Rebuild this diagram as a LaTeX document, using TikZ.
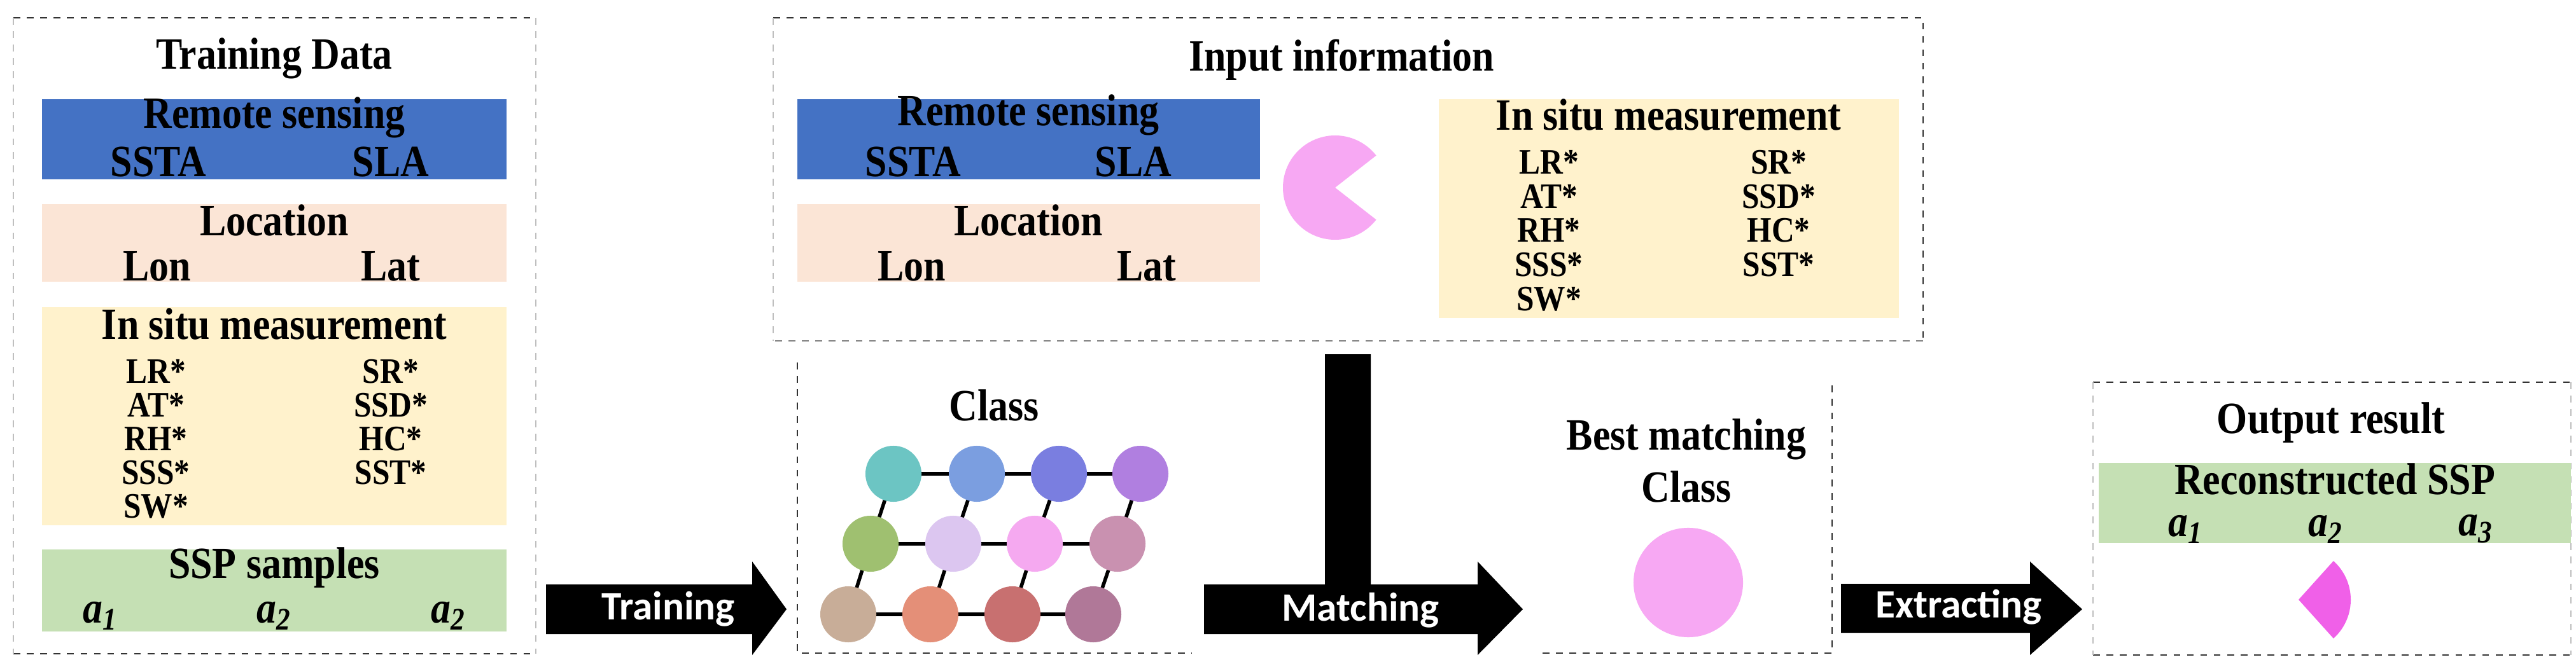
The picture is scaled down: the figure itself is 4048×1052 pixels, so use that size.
\documentclass[tikz,border=0pt]{standalone}
\usepackage{fontspec}
\setmainfont{Liberation Serif}
\newfontfamily\arrfont{Carlito}
\usetikzlibrary{backgrounds}
\definecolor{rsblue}{HTML}{4472C4}
\definecolor{locc}{HTML}{FBE5D6}
\definecolor{insitu}{HTML}{FFF2CC}
\definecolor{sspg}{HTML}{C5E0B4}
\definecolor{pk}{HTML}{F7A8F3}
\definecolor{wedge}{HTML}{F060E8}
\newcommand{\sq}[1]{\scalebox{0.88}[1]{#1}}
\tikzset{
 t/.style={font=\fontsize{20}{22}\selectfont\bfseries, inner sep=0pt},
 tm/.style={font=\fontsize{16}{17}\selectfont\bfseries, inner sep=0pt},
 ti/.style={font=\fontsize{20}{22}\selectfont\bfseries\itshape, inner sep=0pt},
 al/.style={font=\arrfont\fontsize{18}{20}\selectfont\bfseries, text=white, inner sep=0pt},
 dbox/.style={draw=black!80, dashed, line width=0.6pt},
 lbox/.style={draw=black!25, dashed, line width=0.4pt},
 cc/.style={circle, minimum size=0.88cm, inner sep=0pt},
 gl/.style={line width=1.6pt}
}
\begin{document}
\begin{tikzpicture}[x=0.01cm,y=-0.01cm]
\useasboundingbox (0,0) rectangle (4048,1052);
% ---------- Training data ----------
\draw[dbox] (21,28) -- (842,28) (21,1028) -- (842,1028);
\draw[lbox] (21,28) -- (21,1028) (842,28) -- (842,1028);
\node[t] (tdt) at (431,92) {\sq{Training Data}};
\fill[rsblue] (66,156) rectangle (796,282);
\node[t] (trs) at (431,185) {\sq{Remote sensing}};
\node[t] (tssta) at (249,255) {\sq{SSTA}};
\node[t] (tsla) at (614,255) {\sq{SLA}};
\fill[locc] (66,321) rectangle (796,443);
\node[t] (tloc) at (431,346) {\sq{Location}};
\node[t] (tlon) at (247,419) {\sq{Lon}};
\node[t] (tlat) at (614,419) {\sq{Lat}};
\fill[insitu] (66,483) rectangle (796,826);
\node[t] (tis) at (431,510) {\sq{In situ measurement}};
\node[tm] at (245,584) {\sq{LR*}};
\node[tm] at (245,637) {\sq{AT*}};
\node[tm] at (245,690) {\sq{RH*}};
\node[tm] at (245,743) {\sq{SSS*}};
\node[tm] at (245,796) {\sq{SW*}};
\node[tm] at (614,584) {\sq{SR*}};
\node[tm] at (614,637) {\sq{SSD*}};
\node[tm] at (614,690) {\sq{HC*}};
\node[tm] at (614,743) {\sq{SST*}};
\fill[sspg] (66,864) rectangle (796,993);
\node[t] (tssp) at (431,893) {\sq{SSP samples}};
\node[ti] at (158,968) {\sq{a\textsubscript{1}}};
\node[ti] at (431,968) {\sq{a\textsubscript{2}}};
\node[ti] at (705,968) {\sq{a\textsubscript{2}}};
% Training arrow
\fill (858,919) -- (1182,919) -- (1182,883) -- (1236,958) -- (1182,1030) -- (1182,997) -- (858,997) -- cycle;
\node[al] (ltrain) at (1050,958) {Training};
% ---------- Input information ----------
\draw[dbox] (1215,28) -- (3022,28) -- (3022,536);
\draw[dbox, draw=black!50] (3022,536) -- (1215,536);
\draw[lbox] (1215,28) -- (1215,536);
\node[t] (iit) at (2108,94) {\sq{Input information}};
\fill[rsblue] (1253,156) rectangle (1980,282);
\node[t] at (1616,181) {\sq{Remote sensing}};
\node[t] at (1435,255) {\sq{SSTA}};
\node[t] at (1781,255) {\sq{SLA}};
\fill[locc] (1253,321) rectangle (1980,443);
\node[t] at (1616,346) {\sq{Location}};
\node[t] at (1433,419) {\sq{Lon}};
\node[t] at (1802,419) {\sq{Lat}};
\fill[pk] (2098,295) -- ++(38:82) arc[start angle=38,end angle=322,radius=82] -- cycle;
\fill[insitu] (2261,156) rectangle (2984,500);
\node[t] at (2622,181) {\sq{In situ measurement}};
\node[tm] at (2434,255) {\sq{LR*}};
\node[tm] at (2434,309) {\sq{AT*}};
\node[tm] at (2434,362) {\sq{RH*}};
\node[tm] at (2434,416) {\sq{SSS*}};
\node[tm] at (2434,470) {\sq{SW*}};
\node[tm] at (2795,255) {\sq{SR*}};
\node[tm] at (2795,309) {\sq{SSD*}};
\node[tm] at (2795,362) {\sq{HC*}};
\node[tm] at (2795,416) {\sq{SST*}};
% ---------- Class ----------
\draw[dbox] (1253,570) -- (1253,1027) -- (1873,1027);
\node[t] (clt) at (1562,637) {\sq{Class}};
\node[cc, fill={rgb,255:red,108;green,197;blue,195}] (c11) at (1404,745) {};
\node[cc, fill={rgb,255:red,123;green,158;blue,224}] (c12) at (1535,745) {};
\node[cc, fill={rgb,255:red,122;green,126;blue,224}] (c13) at (1664,745) {};
\node[cc, fill={rgb,255:red,176;green,127;blue,224}] (c14) at (1792,745) {};
\node[cc, fill={rgb,255:red,159;green,192;blue,112}] (c21) at (1368,855) {};
\node[cc, fill={rgb,255:red,220;green,198;blue,240}] (c22) at (1498,855) {};
\node[cc, fill={rgb,255:red,245;green,169;blue,240}] (c23) at (1626,855) {};
\node[cc, fill={rgb,255:red,201;green,145;blue,176}] (c24) at (1756,855) {};
\node[cc, fill={rgb,255:red,200;green,173;blue,152}] (c31) at (1333,966) {};
\node[cc, fill={rgb,255:red,228;green,143;blue,120}] (c32) at (1462,966) {};
\node[cc, fill={rgb,255:red,200;green,112;blue,112}] (c33) at (1591,966) {};
\node[cc, fill={rgb,255:red,176;green,120;blue,152}] (c34) at (1718,966) {};
\begin{scope}[on background layer]
\foreach \r in {1,2,3}{
  \draw[gl] (c\r1.center) -- (c\r2.center) -- (c\r3.center) -- (c\r4.center);}
\foreach \c in {1,2,3,4}{
  \draw[gl] (c1\c.center) -- (c2\c.center) -- (c3\c.center);}
\end{scope}
% Matching arrow
\fill (2082,557) -- (2154,557) -- (2154,919) -- (2322,919) -- (2322,883) -- (2393,958) -- (2322,1030) -- (2322,997) -- (1892,997) -- (1892,919) -- (2082,919) -- cycle;
\node[al] (lmatch) at (2138,960) {Matching};
% ---------- Best matching ----------
\draw[dbox] (2424,1027) -- (2879,1027) -- (2879,600);
\node[t] (bmt) at (2650,691) {\sq{Best matching}};
\node[t] (bmc) at (2650,765) {\sq{Class}};
\node[circle, fill=pk, minimum size=1.72cm, inner sep=0pt] (best) at (2653,916) {};
% Extracting arrow
\fill (2893,918) -- (3190,918) -- (3190,883) -- (3272,958) -- (3190,1030) -- (3190,995) -- (2893,995) -- cycle;
\node[al] (lext) at (3078,955) {Extracting};
% ---------- Output result ----------
\draw[dbox] (3289,601) -- (4040,601) (3289,1030) -- (4040,1030);
\draw[lbox] (3289,601) -- (3289,1030) (4040,601) -- (4040,1030);
\node[t] (ort) at (3663,665) {\sq{Output result}};
\fill[sspg] (3298,728) rectangle (4040,854);
\node[t] (rssp) at (3669,754) {\sq{Reconstructed SSP}};
\node[ti] at (3435,832) {\sq{a\textsubscript{1}}};
\node[ti] at (3655,832) {\sq{a\textsubscript{2}}};
\node[ti] at (3891,832) {\sq{a\textsubscript{3}}};
\fill[wedge] (3612,943) -- ++(-48:82) arc[start angle=-48,end angle=48,radius=82] -- cycle;
\end{tikzpicture}
\end{document}
